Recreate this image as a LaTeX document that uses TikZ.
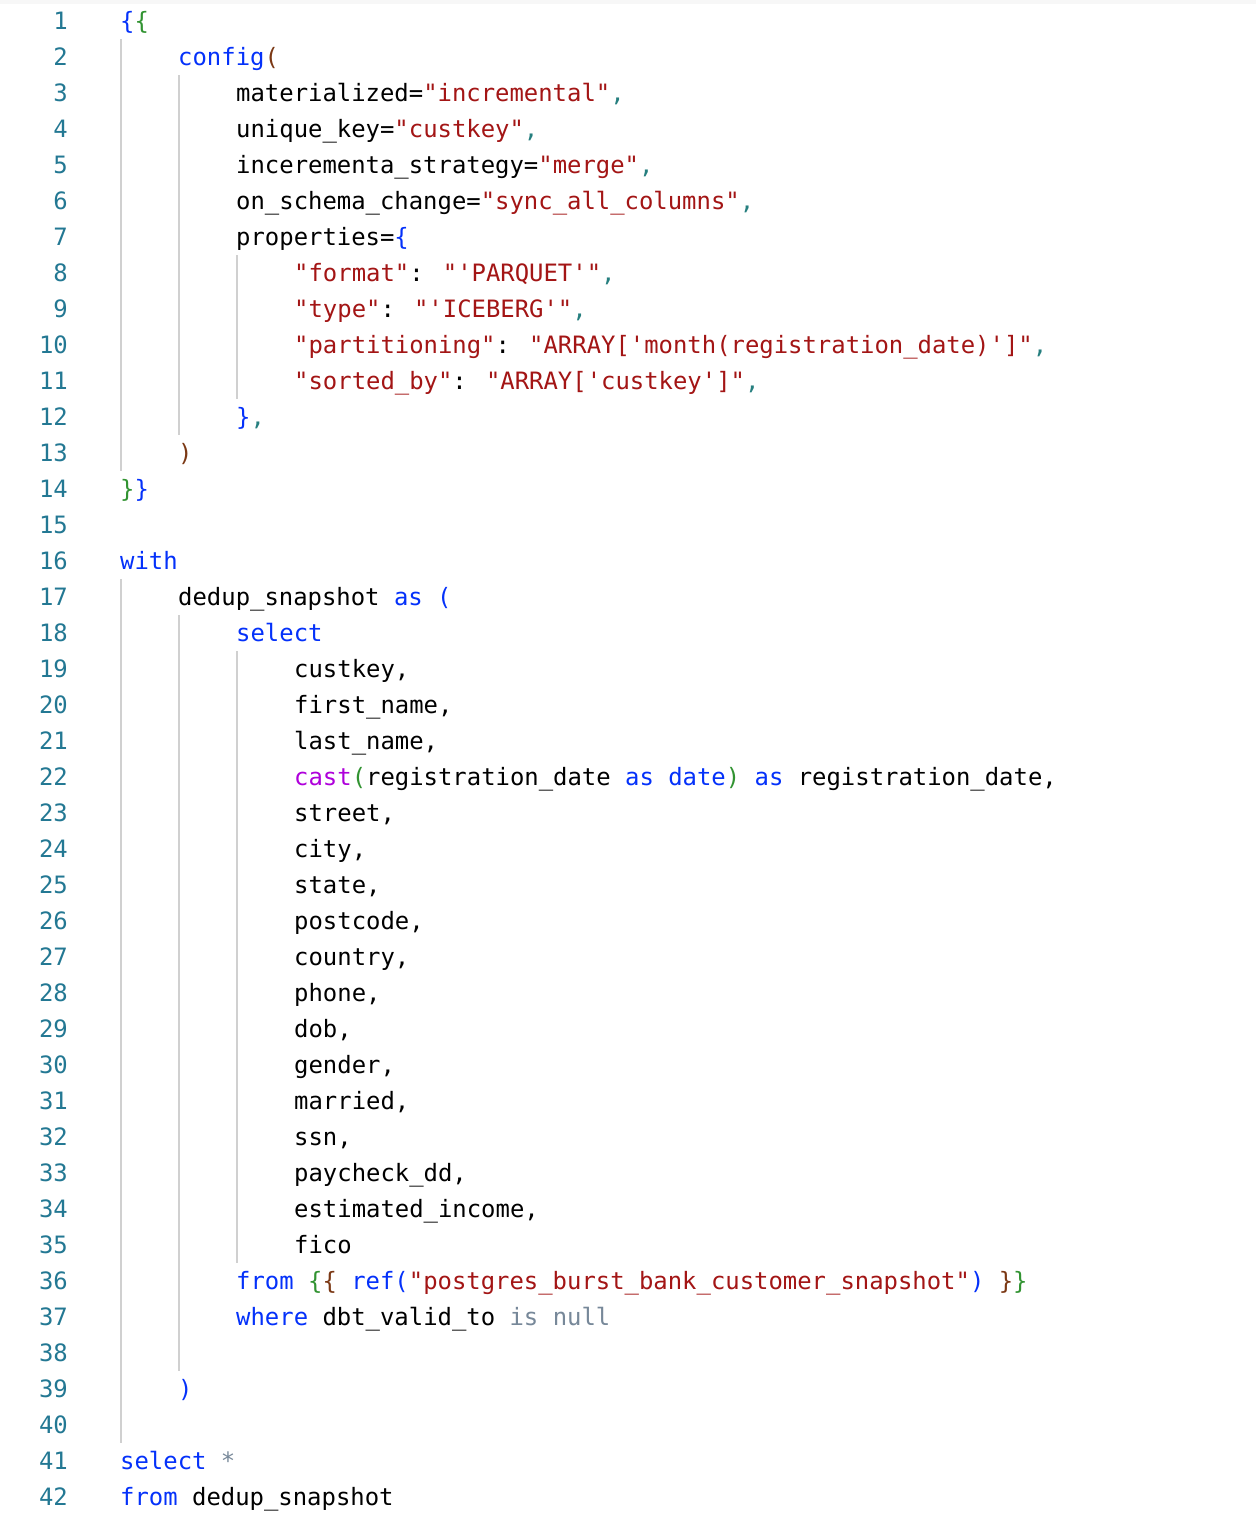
\documentclass[tikz,border=0pt]{standalone}
\usepackage{fontspec}
\newfontfamily\codefont{DejaVu Sans Mono}[Ligatures={}]
\definecolor{kw}{HTML}{0431FA}
\definecolor{st}{HTML}{A31515}
\definecolor{gr}{HTML}{319331}
\definecolor{br}{HTML}{7B3814}
\definecolor{mg}{HTML}{AF00DB}
\definecolor{cm}{HTML}{267F7F}
\definecolor{gy}{HTML}{778899}
\definecolor{lnum}{HTML}{237893}
\definecolor{guide}{HTML}{D0D0D0}
\newcommand\K[1]{\textcolor{kw}{#1}}
\newcommand\Sg[1]{\textcolor{st}{#1}}
\newcommand\G[1]{\textcolor{gr}{#1}}
\newcommand\Br[1]{\textcolor{br}{#1}}
\newcommand\M[1]{\textcolor{mg}{#1}}
\newcommand\Cm{\textcolor{cm}{,}}
\newcommand\Y[1]{\textcolor{gy}{#1}}
\newcommand\q{\char"22\relax}
\newcommand\sq{\char"27\relax}
\newcommand\us{\char"5F\relax}
\newcommand\lb{\char"7B\relax}
\newcommand\rb{\char"7D\relax}
\tikzset{code/.style={anchor=base west,inner sep=0pt,font=\codefont\fontsize{23.9}{36}\selectfont},
lnumber/.style={anchor=base east,inner sep=0pt,text=lnum,font=\codefont\fontsize{23.9}{36}\selectfont},
guideline/.style={draw=guide,line width=1.5pt}}
\newcommand\codeline[3]{%
\node[lnumber] (n#1) at (68,{-(21+36*(#1-1)+8.5)}) {#1};
\node[code] (c#1) at ({120+58*#2},{-(21+36*(#1-1)+8.5)}) {#3};}
\newcommand\guide[4]{\draw[guideline] ({121+58*#1},{-(21+36*(#2-1)-18)}) coordinate (g#4a) -- ({121+58*#1},{-(21+36*(#3-1)+18)}) coordinate (g#4b);}
\begin{document}
\begin{tikzpicture}[x=1pt,y=1pt]
\useasboundingbox[fill=white] (0,0) rectangle (1256,-1516);
\fill[black!3] (0,0) rectangle (1256,-4);
\guide{0}{2}{13}{a}
\guide{1}{3}{12}{b}
\guide{2}{8}{11}{c}
\guide{0}{17}{40}{d}
\guide{1}{18}{38}{e}
\guide{2}{19}{35}{f}
\codeline{1}{0}{\K{\lb}\G{\lb}}
\codeline{2}{1}{\K{config}\Br{(}}
\codeline{3}{2}{materialized=\Sg{\q incremental\q}\Cm}
\codeline{4}{2}{unique\us key=\Sg{\q custkey\q}\Cm}
\codeline{5}{2}{incerementa\us strategy=\Sg{\q merge\q}\Cm}
\codeline{6}{2}{on\us schema\us change=\Sg{\q sync\us all\us columns\q}\Cm}
\codeline{7}{2}{properties=\K{\lb}}
\codeline{8}{3}{\Sg{\q format\q}: \Sg{\q\sq PARQUET\sq\q}\Cm}
\codeline{9}{3}{\Sg{\q type\q}: \Sg{\q\sq ICEBERG\sq\q}\Cm}
\codeline{10}{3}{\Sg{\q partitioning\q}: \Sg{\q ARRAY[\sq month(registration\us date)\sq]\q}\Cm}
\codeline{11}{3}{\Sg{\q sorted\us by\q}: \Sg{\q ARRAY[\sq custkey\sq]\q}\Cm}
\codeline{12}{2}{\K{\rb}\Cm}
\codeline{13}{1}{\Br{)}}
\codeline{14}{0}{\G{\rb}\K{\rb}}
\codeline{15}{0}{}
\codeline{16}{0}{\K{with}}
\codeline{17}{1}{dedup\us snapshot \K{as} \K{(}}
\codeline{18}{2}{\K{select}}
\codeline{19}{3}{custkey,}
\codeline{20}{3}{first\us name,}
\codeline{21}{3}{last\us name,}
\codeline{22}{3}{\M{cast}\G{(}registration\us date \K{as} \K{date}\G{)} \K{as} registration\us date,}
\codeline{23}{3}{street,}
\codeline{24}{3}{city,}
\codeline{25}{3}{state,}
\codeline{26}{3}{postcode,}
\codeline{27}{3}{country,}
\codeline{28}{3}{phone,}
\codeline{29}{3}{dob,}
\codeline{30}{3}{gender,}
\codeline{31}{3}{married,}
\codeline{32}{3}{ssn,}
\codeline{33}{3}{paycheck\us dd,}
\codeline{34}{3}{estimated\us income,}
\codeline{35}{3}{fico}
\codeline{36}{2}{\K{from} \G{\lb}\Br{\lb} \K{ref(}\Sg{\q postgres\us burst\us bank\us customer\us snapshot\q}\K{)} \Br{\rb}\G{\rb}}
\codeline{37}{2}{\K{where} dbt\us valid\us to \Y{is} \Y{null}}
\codeline{38}{2}{}
\codeline{39}{1}{\K{)}}
\codeline{40}{0}{}
\codeline{41}{0}{\K{select} \Y{*}}
\codeline{42}{0}{\K{from} dedup\us snapshot}
\end{tikzpicture}
\end{document}
